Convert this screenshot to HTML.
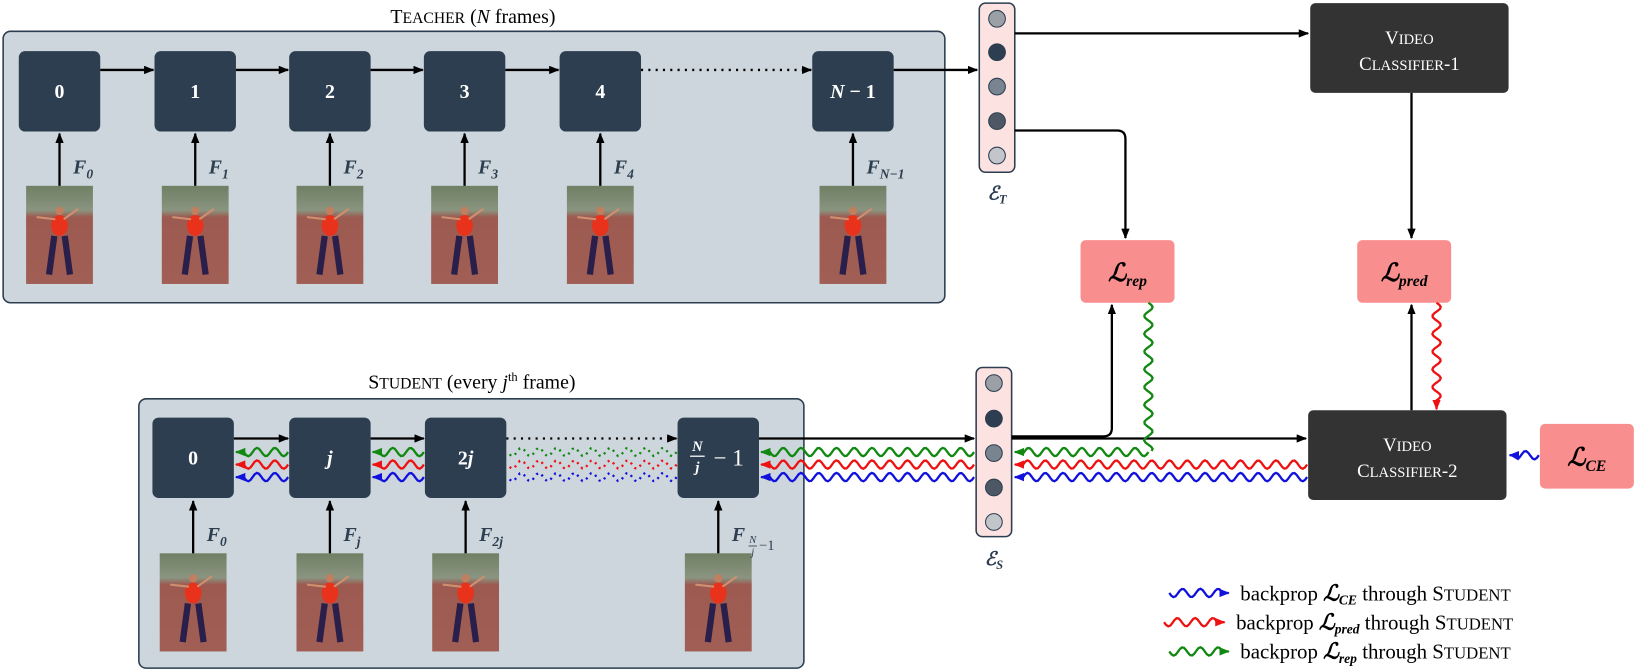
<!DOCTYPE html>
<html><head><meta charset="utf-8"><style>
body{margin:0;background:#fff;}
svg{display:block;}
.sc{font-family:"Liberation Serif",serif;}
.m{font-family:"Liberation Serif","DejaVu Serif",serif;font-style:italic;font-weight:bold;}
</style></head><body>
<svg id="s" width="1637" height="672" viewBox="0 0 1568 643.7" preserveAspectRatio="none" xmlns="http://www.w3.org/2000/svg">
<defs>
<marker id="ak" markerWidth="10" markerHeight="8" refX="9" refY="4" orient="auto" markerUnits="userSpaceOnUse"><path d="M0,0 L10,4 L0,8 z" fill="#000"/></marker>
<marker id="ag" markerWidth="10" markerHeight="8" refX="9" refY="4" orient="auto" markerUnits="userSpaceOnUse"><path d="M0,0 L10,4 L0,8 z" fill="#118811"/></marker>
<marker id="ar" markerWidth="10" markerHeight="8" refX="9" refY="4" orient="auto" markerUnits="userSpaceOnUse"><path d="M0,0 L10,4 L0,8 z" fill="#ee1111"/></marker>
<marker id="ab" markerWidth="10" markerHeight="8" refX="9" refY="4" orient="auto" markerUnits="userSpaceOnUse"><path d="M0,0 L10,4 L0,8 z" fill="#1111dd"/></marker>
<linearGradient id="ph" x1="0" y1="0" x2="0" y2="1">
<stop offset="0" stop-color="#6f8064"/><stop offset="0.25" stop-color="#8a9480"/><stop offset="0.32" stop-color="#9c5a50"/><stop offset="1" stop-color="#a05e55"/></linearGradient>
<g id="photo">
<rect x="0" y="0" width="64" height="94" fill="url(#ph)"/>
<ellipse cx="32" cy="38" rx="8" ry="10" fill="#e8321c"/>
<circle cx="32" cy="24" r="4" fill="#c08060"/>
<path d="M27,48 L22,85 M37,48 L42,85" stroke="#2a1f4a" stroke-width="6"/>
<path d="M10,30 L28,32 M36,32 L50,22" stroke="#d09070" stroke-width="2"/>
</g>
</defs>

<text x="453" y="22" text-anchor="middle" class="sc" font-size="19">T<tspan font-size="15">EACHER</tspan> (<tspan font-style="italic">N</tspan> frames)</text>
<rect x="3" y="30" width="902" height="260" rx="7" fill="#cdd6dc" stroke="#2c3e50" stroke-width="1.5"/>

<text x="452" y="372" text-anchor="middle" class="sc" font-size="19">S<tspan font-size="15">TUDENT</tspan> (every <tspan font-style="italic">j</tspan><tspan font-size="12" dy="-7">th</tspan><tspan dy="7"> frame)</tspan></text>
<rect x="133" y="382" width="637" height="258" rx="7" fill="#cdd6dc" stroke="#2c3e50" stroke-width="1.5"/>

<rect x="938" y="3" width="34" height="162" rx="6" fill="#fde2e2" stroke="#2c3e50" stroke-width="1.5"/>
<circle cx="955" cy="18" r="8" fill="#9aa0a6" stroke="#2c3e50"/>
<circle cx="955" cy="50" r="8" fill="#2c3e50" stroke="#2c3e50"/>
<circle cx="955" cy="83" r="8" fill="#788490" stroke="#2c3e50"/>
<circle cx="955" cy="116" r="8" fill="#4e5864" stroke="#2c3e50"/>
<circle cx="955" cy="149" r="8" fill="#c2c6ca" stroke="#2c3e50"/>
<text x="955" y="191" text-anchor="middle" class="m" font-size="18" fill="#2c3e50">ℰ<tspan font-size="12" dy="4">T</tspan></text>

<rect x="935" y="352" width="34" height="162" rx="6" fill="#fde2e2" stroke="#2c3e50" stroke-width="1.5"/>
<circle cx="952" cy="367" r="8" fill="#9aa0a6" stroke="#2c3e50"/>
<circle cx="952" cy="401" r="8" fill="#2c3e50" stroke="#2c3e50"/>
<circle cx="952" cy="434" r="8" fill="#788490" stroke="#2c3e50"/>
<circle cx="952" cy="467" r="8" fill="#4e5864" stroke="#2c3e50"/>
<circle cx="952" cy="500" r="8" fill="#c2c6ca" stroke="#2c3e50"/>
<text x="952" y="541" text-anchor="middle" class="m" font-size="18" fill="#2c3e50">ℰ<tspan font-size="12" dy="4">S</tspan></text>

<rect x="1255" y="3" width="190" height="86" rx="5" fill="#333"/>
<text x="1350" y="42" text-anchor="middle" class="sc" font-size="18" fill="#fff">V<tspan font-size="14">IDEO</tspan></text>
<text x="1350" y="67" text-anchor="middle" class="sc" font-size="18" fill="#fff">C<tspan font-size="14">LASSIFIER</tspan>-1</text>
<rect x="1253" y="393" width="190" height="86" rx="5" fill="#333"/>
<text x="1348" y="432" text-anchor="middle" class="sc" font-size="18" fill="#fff">V<tspan font-size="14">IDEO</tspan></text>
<text x="1348" y="457" text-anchor="middle" class="sc" font-size="18" fill="#fff">C<tspan font-size="14">LASSIFIER</tspan>-2</text>

<rect x="1035" y="230" width="90" height="60" rx="5" fill="#f98e8e"/>
<text x="1080" y="269" text-anchor="middle" class="m" font-size="24">ℒ<tspan font-size="15" dy="5">rep</tspan></text>
<rect x="1300" y="230" width="90" height="60" rx="5" fill="#f98e8e"/>
<text x="1345" y="269" text-anchor="middle" class="m" font-size="24">ℒ<tspan font-size="15" dy="5">pred</tspan></text>
<rect x="1475" y="406" width="90" height="62" rx="5" fill="#f98e8e"/>
<text x="1520" y="446" text-anchor="middle" class="m" font-size="24">ℒ<tspan font-size="15" dy="5">CE</tspan></text>

<g stroke="#000" stroke-width="2.2" fill="none">
<line x1="972" y1="32" x2="1253" y2="32" marker-end="url(#ak)"/>
<path d="M972,125 H1070 Q1078,125 1078,133 V228" marker-end="url(#ak)"/>
<line x1="1352" y1="89" x2="1352" y2="228" marker-end="url(#ak)"/>
<path d="M969,418 H1057 Q1065,418 1065,410 V292" marker-end="url(#ak)"/>
<line x1="969" y1="420" x2="1251" y2="420" marker-end="url(#ak)"/>
<line x1="1352" y1="393" x2="1352" y2="292" marker-end="url(#ak)"/>
</g>
<g id="waves"></g>

<g class="sc" font-size="20">
<text x="1188" y="575">backprop <tspan class="m" font-size="21">ℒ</tspan><tspan class="m" font-size="13" dy="4">CE</tspan><tspan dy="-4"> through S</tspan><tspan font-size="16">TUDENT</tspan></text>
<text x="1184" y="603">backprop <tspan class="m" font-size="21">ℒ</tspan><tspan class="m" font-size="13" dy="4">pred</tspan><tspan dy="-4"> through S</tspan><tspan font-size="16">TUDENT</tspan></text>
<text x="1188" y="631">backprop <tspan class="m" font-size="21">ℒ</tspan><tspan class="m" font-size="13" dy="4">rep</tspan><tspan dy="-4"> through S</tspan><tspan font-size="16">TUDENT</tspan></text>
</g>
</svg>
<script>
var NS="http://www.w3.org/2000/svg",s=document.getElementById('s');
function el(t,a,p){var e=document.createElementNS(NS,t);for(var k in a)e.setAttribute(k,a[k]);(p||s).appendChild(e);return e;}
function txt(a,h){var t=el('text',a);t.innerHTML=h;return t;}
function node(cx,y,label){el('rect',{x:cx-39,y:y,width:78,height:77,rx:6,fill:'#2c3e50'});
 if(label!==null)txt({x:cx,y:y+45,'text-anchor':'middle',fill:'#fff','font-family':'Liberation Serif,serif','font-weight':'bold','font-size':19},label);}
function line(x1,y1,x2,y2,dot){el('line',{x1:x1,y1:y1,x2:x2,y2:y2,stroke:'#000','stroke-width':2.2,'stroke-dasharray':dot?'2,5':'none','marker-end':'url(#ak)'});}
function photo(cx,y){el('use',{href:'#photo',x:cx-32,y:y});}
var FA={'font-family':'Liberation Serif,serif','font-style':'italic','font-weight':'bold','font-size':19,fill:'#2c3e50'};
function F(cx,y,sub){var a=Object.assign({x:cx+13,y:y},FA);txt(a,'F<tspan font-size="13" dy="5">'+sub+'</tspan>');}
var tc=[57,187,316,445,575,817],tl=['0','1','2','3','4','<tspan font-style="italic">N</tspan> − 1'],ts=['0','1','2','3','4','N−1'];
for(var i=0;i<6;i++){node(tc[i],49,tl[i]);photo(tc[i],178);line(tc[i],178,tc[i],128);F(tc[i],166,ts[i]);
 if(i<5)line(tc[i]+39,67,tc[i+1]-40,67,i==4);}
line(tc[5]+39,67,936,67);
var sc=[185,316,446,688],sl=['0','<tspan font-style="italic">j</tspan>','2<tspan font-style="italic">j</tspan>',null],ss=['0','j','2j'];
for(var i=0;i<4;i++){node(sc[i],400,sl[i]);photo(sc[i],530);line(sc[i],530,sc[i],480);if(i<3)F(sc[i],518,ss[i]);
 if(i<3)line(sc[i]+39,420,sc[i+1]-40,420,i==2);}
var c=sc[3],W0={fill:'#fff','font-family':'Liberation Serif,serif','font-style':'italic','font-weight':'bold','font-size':14,'text-anchor':'middle'};
txt(Object.assign({x:c-20,y:432},W0),'N');
el('line',{x1:c-27,y1:437,x2:c-13,y2:437,stroke:'#fff','stroke-width':1.2});
txt(Object.assign({x:c-20,y:452},W0),'j');
txt({x:c+10,y:446,'text-anchor':'middle',fill:'#fff','font-family':'Liberation Serif,serif','font-size':22},'− 1');
txt(Object.assign({x:c+13,y:518},FA),'F');
txt({x:c+33,y:520,'font-family':'Liberation Serif,serif','font-style':'italic','font-size':10,fill:'#2c3e50','text-anchor':'middle'},'N');
el('line',{x1:c+29,y1:523,x2:c+37,y2:523,stroke:'#2c3e50','stroke-width':0.8});
txt({x:c+33,y:532,'font-family':'Liberation Serif,serif','font-style':'italic','font-size':10,fill:'#2c3e50','text-anchor':'middle'},'j');
txt({x:c+39,y:527,'font-family':'Liberation Serif,serif','font-size':14,fill:'#2c3e50'},'−1');
line(c+39,420,933,420);
var W=document.getElementById('waves');
function waveH(x1,x2,y,col,m,dot){var d='M'+x1+','+y,per=17,A=4,dir=x2<x1?-1:1,n=Math.abs(x2-x1)-(m?7:0);
 for(var k=2;k<=n;k+=2){d+=' L'+(x1+dir*k)+','+(y+A*Math.sin(k/per*2*Math.PI)).toFixed(1);}
 if(m)d+=' L'+(x2-dir*2)+','+y+' L'+x2+','+y;
 el('path',{d:d,fill:'none',stroke:col,'stroke-width':2.2,'stroke-dasharray':dot?'2,4':'none','marker-end':m?'url(#'+m+')':''},W);}
function waveV(x,y1,y2,col,m){var d='M'+x+','+y1,dir=y2<y1?-1:1,n=Math.abs(y2-y1)-(m?7:0);
 for(var k=2;k<=n;k+=2){d+=' L'+(x+4*Math.sin(k/17*2*Math.PI)).toFixed(1)+','+(y1+dir*k);}
 if(m)d+=' L'+x+','+(y2-dir*2)+' L'+x+','+y2;
 el('path',{d:d,fill:'none',stroke:col,'stroke-width':2.2,'marker-end':m?'url(#'+m+')':''},W);}
var G='#118811',R='#ee1111',B='#1111dd',ys=[[G,'ag',433],[R,'ar',445],[B,'ab',457]];
ys.forEach(function(c){var y=c[2];
 waveH(sc[3]-40,sc[2]+42,y,c[0],null,true);
 waveH(sc[2]-40,sc[1]+41,y,c[0],c[1]);
 waveH(sc[1]-40,sc[0]+41,y,c[0],c[1]);
 waveH(933,sc[3]+41,y,c[0],c[1]);});
waveV(1100,290,433,G,null);
waveH(1100,972,433,G,'ag');
waveH(1252,972,445,R,'ar');waveH(1252,972,457,B,'ab');
waveV(1376,290,392,R,'ar');
waveH(1474,1446,436,B,'ab');
waveH(1120,1177,568,B,'ab');waveH(1115,1173,596,R,'ar');waveH(1120,1177,624,G,'ag');
</script>
</body></html>
